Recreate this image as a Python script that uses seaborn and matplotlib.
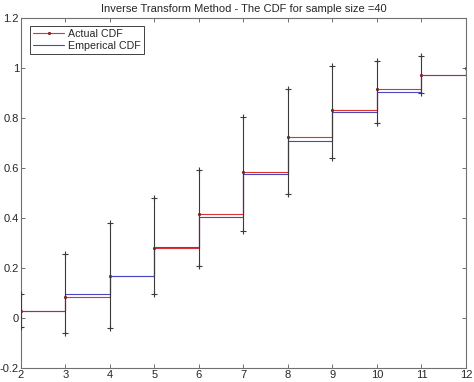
import numpy as np
import pandas as pd
import matplotlib
matplotlib.use('Agg')
import matplotlib.pyplot as plt
import seaborn as sns

# step values (x = 2..12)
x_vals = [2, 3, 4, 5, 6, 7, 8, 9, 10, 11, 12]
actual_cdf = [0.028, 0.083, 0.167, 0.278, 0.417, 0.583, 0.722, 0.833, 0.917, 0.972, 1.0]
emp_cdf = [0.028, 0.097, 0.170, 0.285, 0.403, 0.576, 0.707, 0.824, 0.905, 0.972, 1.0]

# error bar ends at x = 2..11
err_x = [2, 3, 4, 5, 6, 7, 8, 9, 10, 11]
err_lo = [-0.036, -0.061, -0.039, 0.095, 0.207, 0.348, 0.497, 0.639, 0.781, 0.899]
err_hi = [0.095, 0.255, 0.380, 0.480, 0.593, 0.805, 0.915, 1.009, 1.029, 1.048]

sns.set_style('ticks')
plt.rcParams['font.family'] = ['Liberation Sans', 'DejaVu Sans']
plt.rcParams['font.size'] = 8

df = pd.DataFrame({'x': x_vals, 'actual': actual_cdf, 'emp': emp_cdf})

fig = plt.figure(figsize=(4.74, 3.82), dpi=100)
ax = fig.add_axes([0.0443, 0.0366, 0.9387, 0.9164])

sns.lineplot(data=df, x='x', y='actual', ax=ax, color='#e03030', lw=0.8,
             drawstyle='steps-post', marker='.', markersize=3,
             markeredgecolor='#802020', label='Actual CDF')
sns.lineplot(data=df, x='x', y='emp', ax=ax, color='#4848c0', lw=0.8,
             drawstyle='steps-post', label='Emperical CDF')

ax.vlines(err_x, err_lo, err_hi, color='#3a3a3a', lw=0.8, zorder=3)
ax.plot(err_x, err_lo, ls='none', marker='+', ms=5, mew=0.8, color='#3a3a3a', zorder=3)
ax.plot(err_x, err_hi, ls='none', marker='+', ms=5, mew=0.8, color='#3a3a3a', zorder=3)

ax.set_xlim(2, 12)
ax.set_ylim(-0.2, 1.2)
ax.set_xticks(range(2, 13))
yt = [-0.2, 0, 0.2, 0.4, 0.6, 0.8, 1, 1.2]
ax.set_yticks(yt)
ax.set_yticklabels(['-0.2', '0', '0.2', '0.4', '0.6', '0.8', '1', '1.2'])
ax.set_xlabel('')
ax.set_ylabel('')
for s in ax.spines.values():
    s.set_visible(True)
    s.set_color('#707070')
    s.set_linewidth(0.8)
ax.tick_params(direction='in', top=True, right=True, length=3, width=0.7,
               color='#707070', labelsize=8, pad=1.5)
ax.set_title('Inverse Transform Method - The CDF for sample size =40', fontsize=8, pad=4)

leg = ax.legend(loc='upper left', bbox_to_anchor=(0.02, 0.977), fancybox=False,
                edgecolor='#404040', framealpha=1, fontsize=7.7, handlelength=2.9,
                borderpad=0.3, labelspacing=0.15, handletextpad=0.35, borderaxespad=0)
leg.get_frame().set_linewidth(0.7)

fig.savefig('out.png', dpi=100)
